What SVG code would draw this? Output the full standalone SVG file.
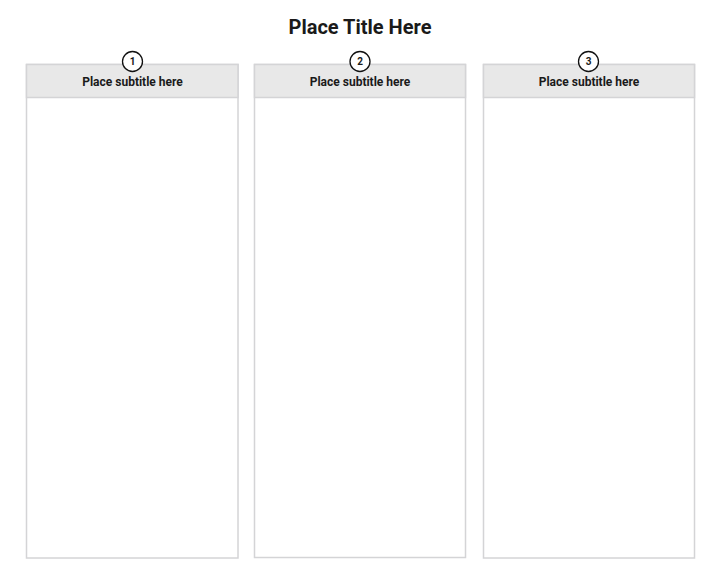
<svg xmlns="http://www.w3.org/2000/svg" width="720" height="578" viewBox="0 0 720 578">
<style>
.box{fill:#fff;stroke:#d4d4d6;stroke-width:1.5}
.hdr{fill:#e8e8e8;stroke:#d4d4d6;stroke-width:1.5}
.num{fill:#fff;stroke:#111;stroke-width:1.3}
.t{font-family:Roboto,"Liberation Sans",sans-serif;font-weight:bold;fill:#1a1a1a;text-anchor:middle}
.sub{font-size:12px}
.n{font-size:10px}
</style>
<rect width="720" height="578" fill="#fff"/>
<text class="t" x="360" y="34" font-size="20">Place Title Here</text>
<g id="col1">
<rect class="box" x="26.5" y="64.5" width="211.5" height="493.5"/>
<rect class="hdr" x="26.5" y="64.5" width="211.5" height="33"/>
<text class="t sub" x="132.5" y="85.5">Place subtitle here</text>
<circle class="num" cx="132.5" cy="61.5" r="10"/>
<text class="t n" x="132.5" y="65">1</text>
</g>
<g id="col2">
<rect class="box" x="254.5" y="64.5" width="211" height="493"/>
<rect class="hdr" x="254.5" y="64.5" width="211" height="33"/>
<text class="t sub" x="360" y="85.5">Place subtitle here</text>
<circle class="num" cx="360" cy="61.5" r="10"/>
<text class="t n" x="360" y="65">2</text>
</g>
<g id="col3">
<rect class="box" x="483.5" y="64.5" width="211" height="493.5"/>
<rect class="hdr" x="483.5" y="64.5" width="211" height="33"/>
<text class="t sub" x="589" y="85.5">Place subtitle here</text>
<circle class="num" cx="588.5" cy="61.5" r="10"/>
<text class="t n" x="588.5" y="65">3</text>
</g>
<g id="connectors"/>
</svg>
